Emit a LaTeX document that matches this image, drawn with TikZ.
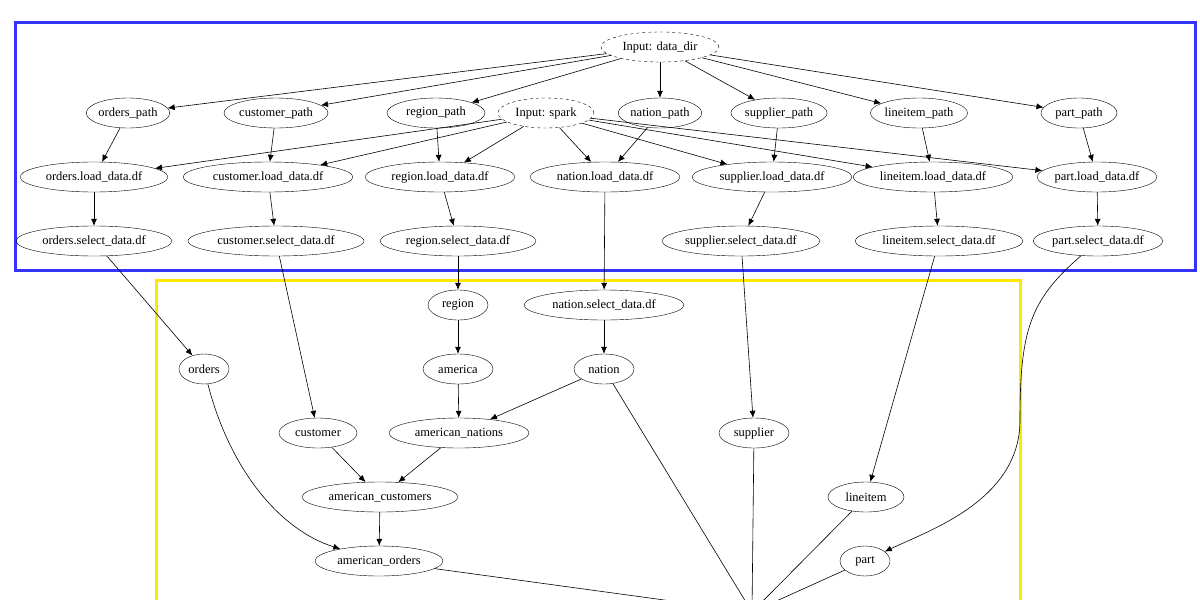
\documentclass[tikz,border=0pt]{standalone}
\usepackage{fontspec}
\setmainfont{Liberation Serif}
\usetikzlibrary{arrows.meta,shapes.geometric}
\begin{document}
\begin{tikzpicture}[x=1pt,y=-1pt,
  n/.style={ellipse,draw,inner sep=0pt,minimum height=30pt,font=\fontsize{12.5}{14}\selectfont},
  d/.style={n,dashed},
  e/.style={-{Latex[length=7pt,width=6pt]},line width=0.6pt}]
\useasboundingbox (0,0) rectangle (1200,600);
\clip (0,0) rectangle (1200,600);
\fill[white] (0,0) rectangle (1200,600);
\draw[line width=3pt,draw=blue!80] (15,22) rectangle (1195,270);
\draw[yellow!90!orange,line width=3pt] (156,280) rectangle (1020,620);
\node[d,minimum width=118pt] (dd) at (660,47) {Input: data\_dir};
\node[n,minimum width=78pt] (op) at (128,113) {orders\_path};
\node[n,minimum width=96pt] (cp) at (276,113) {customer\_path};
\node[n,minimum width=98pt] (rp) at (436,113) {region\_path};
\node[d,minimum width=96pt] (sp) at (546,113) {Input: spark};
\node[n,minimum width=76pt] (np) at (660,113) {nation\_path};
\node[n,minimum width=96pt] (sup) at (779,113) {supplier\_path};
\node[n,minimum width=94pt] (lp) at (919,113) {lineitem\_path};
\node[n,minimum width=76pt] (pp) at (1079,113) {part\_path};
\node[n,minimum width=148pt] (ol) at (94,177) {orders.load\_data.df};
\node[n,minimum width=170pt] (cl) at (268,177) {customer.load\_data.df};
\node[n,minimum width=150pt] (rl) at (440,177) {region.load\_data.df};
\node[n,minimum width=150pt] (nl) at (605,177) {nation.load\_data.df};
\node[n,minimum width=160pt] (sl) at (772,177) {supplier.load\_data.df};
\node[n,minimum width=160pt] (ll) at (933,177) {lineitem.load\_data.df};
\node[n,minimum width=112pt] (pl) at (1097,177) {part.load\_data.df};
\node[n,minimum width=156pt] (os) at (94,241) {orders.select\_data.df};
\node[n,minimum width=176pt] (cs) at (276,241) {customer.select\_data.df};
\node[n,minimum width=156pt] (rs) at (458,241) {region.select\_data.df};
\node[n,minimum width=140pt] (ss) at (741,241) {supplier.select\_data.df};
\node[n,minimum width=168pt] (ls) at (939,241) {lineitem.select\_data.df};
\node[n,minimum width=118pt] (ps) at (1098,241) {part.select\_data.df};
\node[n,minimum width=60pt] (rg) at (458,305) {region};
\node[n,minimum width=160pt] (ns) at (604,305) {nation.select\_data.df};
\node[n,minimum width=50pt] (or) at (204,369) {orders};
\node[n,minimum width=70pt] (am) at (458,369) {america};
\node[n,minimum width=60pt] (na) at (604,369) {nation};
\node[n,minimum width=78pt] (cu) at (318,433) {customer};
\node[n,minimum width=140pt] (an) at (459,433) {american\_nations};
\node[n,minimum width=70pt] (su) at (754,433) {supplier};
\node[n,minimum width=156pt] (ac) at (380,497) {american\_customers};
\node[n,minimum width=76pt] (li) at (866,497) {lineitem};
\node[n,minimum width=128pt] (ao) at (379,561) {american\_orders};
\node[n,minimum width=50pt] (pa) at (865,561) {part};
\coordinate (sink) at (752,612);
\foreach \t in {op,cp,rp,np,sup,lp,pp} \draw[e] (dd) -- (\t);
\foreach \t in {ol,cl,rl,nl,sl,ll,pl} \draw[e] (sp) -- (\t);
\draw[e] (op) -- (ol); \draw[e] (cp) -- (cl); \draw[e] (rp) -- (rl);
\draw[e] (np) -- (nl); \draw[e] (sup) -- (sl); \draw[e] (lp) -- (ll); \draw[e] (pp) -- (pl);
\draw[e] (ol) -- (os); \draw[e] (cl) -- (cs); \draw[e] (rl) -- (rs);
\draw[e] (nl) -- (ns); \draw[e] (sl) -- (ss); \draw[e] (ll) -- (ls); \draw[e] (pl) -- (ps);
\draw[e] (os) -- (or); \draw[e] (cs) -- (cu); \draw[e] (rs) -- (rg);
\draw[e] (ss) -- (su); \draw[e] (ls) -- (li);
\draw[e] (ps) .. controls (1030,300) and (1020,330) .. (1020,420) .. controls (1020,500) and (930,530) .. (pa);
\draw[e] (rg) -- (am); \draw[e] (ns) -- (na);
\draw[e] (am) -- (an); \draw[e] (na) -- (an);
\draw[e] (cu) -- (ac); \draw[e] (an) -- (ac); \draw[e] (ac) -- (ao);
\draw[e] (or) .. controls (230,470) and (280,530) .. (ao);
\foreach \s in {ao,na,su,li,pa} \draw[e] (\s) -- (sink);
\end{tikzpicture}
\end{document}
